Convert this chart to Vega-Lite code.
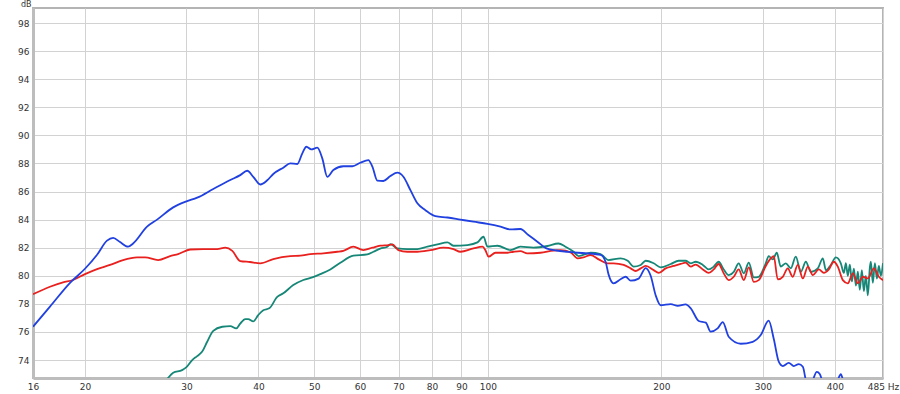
{
  "$schema": "https://vega.github.io/schema/vega-lite/v6.json",
  "width": 850,
  "height": 370,
  "autosize": {"type": "none"},
  "padding": {"left": 33, "top": 8, "right": 17, "bottom": 16},
  "background": "#ffffff",
  "config": {
    "view": {"stroke": "#b4b4b4", "strokeWidth": 2},
    "font": "DejaVu Sans",
    "axis": {"labelFont": "DejaVu Sans", "labelFontSize": 9, "labelColor": "#333333", "gridColor": "#d2d2d2", "gridWidth": 1, "ticks": false, "domainColor": "#bdbdbd", "domainWidth": 3}
  },
  "datasets": {
    "blue": [
      {"f":16.25,"db":76.37},{"f":17.39,"db":77.8},{"f":18.84,"db":79.5},{"f":20.0,"db":80.5},{"f":20.99,"db":81.5},{"f":21.84,"db":82.5},{"f":22.38,"db":82.7},{"f":23.01,"db":82.4},{"f":23.76,"db":82.07},{"f":24.24,"db":82.3},{"f":25.63,"db":83.5},{"f":26.68,"db":84.0},{"f":28.45,"db":84.87},{"f":30.0,"db":85.3},{"f":31.31,"db":85.56},{"f":33.39,"db":86.18},{"f":35.74,"db":86.82},{"f":37.19,"db":87.17},{"f":38.24,"db":87.48},{"f":39.18,"db":87.05},{"f":40.29,"db":86.5},{"f":41.43,"db":86.8},{"f":42.44,"db":87.25},{"f":44.17,"db":87.7},{"f":45.42,"db":88.0},{"f":46.71,"db":87.96},{"f":47.66,"db":88.72},{"f":48.43,"db":89.19},{"f":49.4,"db":89.0},{"f":50.6,"db":89.12},{"f":51.62,"db":88.36},{"f":52.66,"db":87.05},{"f":53.95,"db":87.53},{"f":56.15,"db":87.8},{"f":58.21,"db":87.8},{"f":60.09,"db":88.05},{"f":62.05,"db":88.24},{"f":63.06,"db":87.77},{"f":64.32,"db":86.77},{"f":65.89,"db":86.75},{"f":67.76,"db":87.1},{"f":69.68,"db":87.34},{"f":71.38,"db":87.05},{"f":73.4,"db":86.1},{"f":75.48,"db":85.16},{"f":77.94,"db":84.67},{"f":81.12,"db":84.24},{"f":85.1,"db":84.15},{"f":89.65,"db":84.0},{"f":94.44,"db":83.85},{"f":99.87,"db":83.7},{"f":105.2,"db":83.5},{"f":109.5,"db":83.3},{"f":113.9,"db":83.33},{"f":117.6,"db":82.9},{"f":121.9,"db":82.43},{"f":126.4,"db":81.95},{"f":131.6,"db":81.8},{"f":137.5,"db":81.71},{"f":143.2,"db":81.64},{"f":148.9,"db":81.6},{"f":156.9,"db":81.48},{"f":160.1,"db":81.0},{"f":162.0,"db":80.1},{"f":165.3,"db":79.46},{"f":170.0,"db":79.75},{"f":173.5,"db":79.93},{"f":177.0,"db":79.65},{"f":182.7,"db":79.8},{"f":187.9,"db":80.55},{"f":191.7,"db":80.0},{"f":195.6,"db":78.6},{"f":199.5,"db":77.9},{"f":207.7,"db":77.98},{"f":213.6,"db":77.86},{"f":220.4,"db":77.96},{"f":225.0,"db":77.68},{"f":232.3,"db":76.78},{"f":238.9,"db":76.66},{"f":243.6,"db":76.02},{"f":250.5,"db":76.25},{"f":255.7,"db":76.7},{"f":261.8,"db":75.66},{"f":274.8,"db":75.16},{"f":288.2,"db":75.3},{"f":297.6,"db":75.78},{"f":307.2,"db":76.8},{"f":313.5,"db":75.5},{"f":319.8,"db":73.88},{"f":325.0,"db":73.57},{"f":332.8,"db":73.8},{"f":339.6,"db":73.57},{"f":346.4,"db":73.71},{"f":352.1,"db":73.52},{"f":357.7,"db":72.4},{"f":365.0,"db":72.5},{"f":372.3,"db":73.15},{"f":376.7,"db":73.0},{"f":382.9,"db":72.3},{"f":393.7,"db":72.2},{"f":404.9,"db":72.6},{"f":409.8,"db":73.0},{"f":414.8,"db":72.4},{"f":435.2,"db":71.8},{"f":462.0,"db":71.5},{"f":485,"db":71.5}
    ],
    "red": [
      {"f":16.25,"db":78.68},{"f":17.39,"db":79.22},{"f":18.32,"db":79.53},{"f":19.07,"db":79.7},{"f":20.0,"db":80.12},{"f":20.99,"db":80.48},{"f":22.11,"db":80.77},{"f":23.29,"db":81.12},{"f":24.63,"db":81.31},{"f":25.43,"db":81.31},{"f":26.79,"db":81.12},{"f":28.1,"db":81.4},{"f":29.02,"db":81.54},{"f":30.45,"db":81.87},{"f":32.08,"db":81.9},{"f":33.92,"db":81.9},{"f":35.03,"db":82.0},{"f":36.03,"db":81.77},{"f":37.19,"db":81.05},{"f":38.67,"db":80.98},{"f":40.29,"db":80.89},{"f":42.44,"db":81.19},{"f":45.42,"db":81.4},{"f":47.28,"db":81.43},{"f":49.2,"db":81.54},{"f":51.83,"db":81.6},{"f":54.81,"db":81.71},{"f":56.15,"db":81.78},{"f":58.44,"db":82.07},{"f":60.82,"db":81.83},{"f":63.06,"db":82.0},{"f":65.08,"db":82.14},{"f":67.21,"db":82.19},{"f":68.31,"db":82.23},{"f":69.95,"db":81.83},{"f":72.52,"db":81.71},{"f":75.48,"db":81.71},{"f":79.51,"db":81.83},{"f":83.76,"db":82.0},{"f":87.18,"db":81.9},{"f":89.65,"db":81.71},{"f":94.44,"db":81.95},{"f":97.9,"db":82.07},{"f":99.09,"db":81.8},{"f":100.3,"db":81.36},{"f":103.1,"db":81.64},{"f":108.2,"db":81.64},{"f":110.8,"db":81.71},{"f":113.9,"db":81.76},{"f":117.1,"db":81.6},{"f":123.4,"db":81.64},{"f":130.0,"db":81.8},{"f":133.7,"db":81.83},{"f":139.2,"db":81.67},{"f":143.2,"db":81.24},{"f":146.6,"db":81.31},{"f":150.8,"db":81.48},{"f":155.7,"db":81.17},{"f":161.3,"db":80.89},{"f":165.3,"db":80.89},{"f":172.1,"db":80.77},{"f":177.0,"db":80.53},{"f":180.5,"db":80.34},{"f":184.2,"db":80.53},{"f":187.9,"db":80.7},{"f":194.0,"db":80.4},{"f":197.9,"db":80.2},{"f":203.5,"db":80.53},{"f":210.2,"db":80.7},{"f":216.1,"db":80.84},{"f":220.4,"db":80.93},{"f":225.0,"db":80.65},{"f":229.5,"db":80.8},{"f":236.1,"db":80.45},{"f":241.7,"db":80.2},{"f":246.6,"db":80.45},{"f":251.5,"db":80.84},{"f":256.7,"db":80.17},{"f":261.8,"db":79.69},{"f":267.2,"db":79.93},{"f":272.5,"db":80.45},{"f":278.1,"db":79.69},{"f":283.7,"db":80.6},{"f":289.4,"db":79.57},{"f":295.2,"db":79.69},{"f":303.6,"db":80.7},{"f":309.7,"db":81.24},{"f":313.5,"db":81.4},{"f":318.5,"db":79.74},{"f":325.0,"db":79.93},{"f":331.5,"db":80.53},{"f":338.2,"db":79.93},{"f":345.0,"db":80.77},{"f":352.1,"db":79.81},{"f":359.2,"db":80.65},{"f":366.4,"db":80.05},{"f":375.3,"db":80.45},{"f":382.9,"db":80.2},{"f":390.6,"db":80.45},{"f":398.5,"db":81.0},{"f":404.9,"db":80.65},{"f":413.1,"db":79.69},{"f":421.4,"db":79.46},{"f":430.0,"db":80.17},{"f":438.6,"db":79.46},{"f":447.5,"db":79.93},{"f":456.5,"db":79.81},{"f":467.6,"db":80.53},{"f":477.0,"db":79.93},{"f":485,"db":79.69}
    ],
    "teal": [
      {"f":27.3,"db":72.3},{"f":27.77,"db":72.64},{"f":28.45,"db":73.09},{"f":29.48,"db":73.28},{"f":30.0,"db":73.5},{"f":30.7,"db":74.0},{"f":31.31,"db":74.28},{"f":31.95,"db":74.6},{"f":32.59,"db":75.3},{"f":33.39,"db":76.08},{"f":34.61,"db":76.37},{"f":35.74,"db":76.42},{"f":36.6,"db":76.25},{"f":37.19,"db":76.6},{"f":37.94,"db":76.92},{"f":38.39,"db":76.92},{"f":39.18,"db":76.75},{"f":39.96,"db":77.2},{"f":40.78,"db":77.55},{"f":41.76,"db":77.68},{"f":43.12,"db":78.5},{"f":44.17,"db":78.75},{"f":45.97,"db":79.34},{"f":47.85,"db":79.7},{"f":49.6,"db":79.89},{"f":51.21,"db":80.12},{"f":53.3,"db":80.45},{"f":55.48,"db":80.93},{"f":58.44,"db":81.43},{"f":61.79,"db":81.52},{"f":63.31,"db":81.71},{"f":65.08,"db":81.93},{"f":66.94,"db":82.07},{"f":67.76,"db":82.26},{"f":69.68,"db":81.95},{"f":72.52,"db":81.9},{"f":75.48,"db":81.9},{"f":78.56,"db":82.07},{"f":81.77,"db":82.23},{"f":85.1,"db":82.38},{"f":87.18,"db":82.14},{"f":92.19,"db":82.19},{"f":95.95,"db":82.38},{"f":98.3,"db":82.78},{"f":99.87,"db":82.07},{"f":103.9,"db":82.14},{"f":109.5,"db":81.83},{"f":113.9,"db":82.07},{"f":120.0,"db":82.0},{"f":126.9,"db":82.12},{"f":132.6,"db":82.3},{"f":136.4,"db":82.07},{"f":140.9,"db":81.71},{"f":143.7,"db":81.4},{"f":150.8,"db":81.64},{"f":156.9,"db":81.55},{"f":162.0,"db":81.12},{"f":170.0,"db":81.24},{"f":174.9,"db":81.07},{"f":179.1,"db":80.65},{"f":184.2,"db":80.77},{"f":187.9,"db":81.07},{"f":194.0,"db":80.89},{"f":199.5,"db":80.6},{"f":207.7,"db":80.84},{"f":214.4,"db":81.07},{"f":220.4,"db":81.07},{"f":225.0,"db":80.89},{"f":229.5,"db":81.0},{"f":236.1,"db":80.77},{"f":241.7,"db":80.45},{"f":246.6,"db":80.65},{"f":251.5,"db":81.0},{"f":256.7,"db":80.45},{"f":261.8,"db":80.05},{"f":267.2,"db":80.28},{"f":272.5,"db":80.89},{"f":278.1,"db":80.17},{"f":283.7,"db":80.93},{"f":289.4,"db":79.89},{"f":295.2,"db":79.93},{"f":303.6,"db":80.89},{"f":307.2,"db":81.4},{"f":312.2,"db":81.17},{"f":317.3,"db":81.64},{"f":322.3,"db":80.65},{"f":328.9,"db":80.89},{"f":335.5,"db":80.53},{"f":342.3,"db":81.36},{"f":349.3,"db":80.28},{"f":356.3,"db":81.0},{"f":363.5,"db":80.28},{"f":373.8,"db":80.53},{"f":381.4,"db":81.24},{"f":386.0,"db":80.4},{"f":393.7,"db":80.77},{"f":401.7,"db":81.31},{"f":409.8,"db":80.89},{"f":414.8,"db":80.2},{"f":418.1,"db":80.9},{"f":421.4,"db":80.0},{"f":424.8,"db":80.8},{"f":428.3,"db":79.6},{"f":431.7,"db":80.5},{"f":435.2,"db":79.3},{"f":438.6,"db":80.3},{"f":442.1,"db":79.0},{"f":445.7,"db":80.4},{"f":449.3,"db":78.9},{"f":452.9,"db":80.0},{"f":456.5,"db":78.6},{"f":460.2,"db":80.6},{"f":462.0,"db":81.0},{"f":465.7,"db":79.5},{"f":469.5,"db":80.9},{"f":473.3,"db":79.8},{"f":477.0,"db":80.7},{"f":480.9,"db":80.0},{"f":485,"db":80.9}
    ]
  },
  "encoding": {
    "x": {
      "field": "f", "type": "quantitative",
      "scale": {"type": "log", "domain": [16.25, 485], "nice": false},
      "axis": {
        "title": null,
        "values": [16.25, 20, 30, 40, 50, 60, 70, 80, 90, 100, 200, 300, 400, 485],
        "labelExpr": "datum.value < 17 ? '16' : (datum.value > 480 ? '485 Hz' : format(datum.value, 'd'))",
        "labelFlush": false,
        "labelOverlap": false,
        "labelPadding": 4,
        "grid": true
      }
    },
    "y": {
      "field": "db", "type": "quantitative",
      "scale": {"domain": [72.72, 99.07], "nice": false, "zero": false},
      "axis": {
        "title": "dB",
        "titleAngle": 0,
        "titleX": -2,
        "titleY": -1.5,
        "titleAlign": "right",
        "titleBaseline": "alphabetic",
        "titleFont": "DejaVu Sans",
        "titleFontSize": 8,
        "titleFontWeight": "normal",
        "titleColor": "#333333",
        "values": [74, 76, 78, 80, 82, 84, 86, 88, 90, 92, 94, 96, 98],
        "labelPadding": 4,
        "grid": true
      }
    }
  },
  "layer": [
    {"data": {"name": "teal"}, "mark": {"type": "line", "color": "#168677", "strokeWidth": 1.8, "clip": true, "interpolate": "monotone"}},
    {"data": {"name": "red"}, "mark": {"type": "line", "color": "#e8201e", "strokeWidth": 1.8, "clip": true, "interpolate": "monotone"}},
    {"data": {"name": "blue"}, "mark": {"type": "line", "color": "#2040e0", "strokeWidth": 1.8, "clip": true, "interpolate": "monotone"}}
  ]
}
